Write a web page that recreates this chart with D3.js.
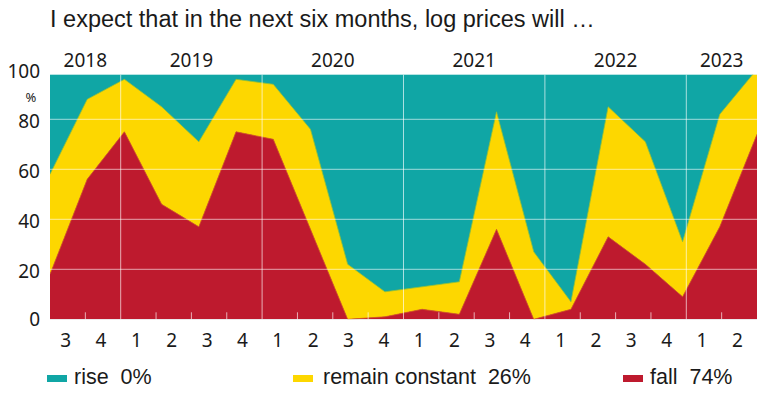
<!DOCTYPE html>
<html>
<head>
<meta charset="utf-8">
<script src="https://cdn.jsdelivr.net/npm/d3@7"></script>
<style>
  body { margin: 0; background: #fff; }
  svg text { white-space: pre; }
</style>
</head>
<body>
<div id="chart"></div>
<script>
// quarter labels and the year each quarter belongs to
var quarters = ["3","4","1","2","3","4","1","2","3","4","1","2","3","4","1","2","3","4","1","2"]
var quarterYear = ["2018","2018","2019","2019","2019","2019","2020","2020","2020","2020",
                   "2021","2021","2021","2021","2022","2022","2022","2022","2023","2023"]
// answer shares in %
var fall   = [18,56,75,46,37,75,72,36,0,1,4,2,36,0,4,33,22,9,37,74]
var remain = [40,32,21,39,34,21,22,40,22,10,9,13,47,27,3,52,49,22,45,26]
var rise   = [42,12,4,15,29,4,6,24,78,89,87,85,17,73,93,15,29,69,18,0]
var yTicks = [0,20,40,60,80,100]
var seriesNames = ["fall","remain","rise"]
var legendLabels = ["rise  0%","remain constant  26%","fall  74%"]

var colors = { rise: "#10a6a5", remain: "#fdd700", fall: "#be1a2e" }

var W = 777, H = 406
var plotLeft = 50, plotRight = 757, plotTop = 74.7, plotBottom = 319.3

var svg = d3.select("#chart")
  .append("svg")
  .attr("width", W)
  .attr("height", H)

var rows = quarters.map(function(q, i){
  return { i: i, fall: fall[i], remain: remain[i], rise: rise[i] }
})

var xPoint = d3.scalePoint()
  .domain(d3.range(quarters.length))
  .range([plotLeft, plotRight])
var xBand = d3.scaleBand()
  .domain(d3.range(quarters.length))
  .range([plotLeft, plotRight])
var y = d3.scaleLinear()
  .domain([0, 100])
  .range([plotBottom, 69.3])

svg.append("clipPath")
  .attr("id", "plotclip")
  .append("rect")
  .attr("x", plotLeft).attr("y", plotTop)
  .attr("width", plotRight - plotLeft).attr("height", plotBottom - plotTop)

var stacked = d3.stack().keys(seriesNames)(rows)

var area = d3.area()
  .x(function(d){ return xPoint(d.data.i) })
  .y0(function(d){ return y(d[0]) })
  .y1(function(d){ return y(d[1]) })

var plot = svg.append("g").attr("clip-path", "url(#plotclip)")

// teal fills the whole box, then the lower layers on top
plot.append("rect")
  .attr("x", plotLeft).attr("y", plotTop)
  .attr("width", plotRight - plotLeft).attr("height", plotBottom - plotTop)
  .attr("fill", colors.rise)

plot.selectAll("path.layer")
  .data(stacked.slice().reverse())
  .enter()
  .append("path")
  .attr("class", "layer")
  .attr("d", area)
  .attr("fill", function(d){ return colors[d.key] })
  .attr("stroke", "none")

// thin boundary lines between the layers
var topLine = d3.line()
  .x(function(d){ return xPoint(d.data.i) })
  .y(function(d){ return y(d[1]) })
plot.selectAll("path.edge")
  .data(stacked.slice(0, 2))
  .enter()
  .append("path")
  .attr("class", "edge")
  .attr("d", topLine)
  .attr("fill", "none")
  .attr("stroke", function(d){ return d.key == "fall" ? "#e0561e" : "#8fbf3c" })
  .attr("stroke-width", 1)
  .attr("stroke-opacity", 0.8)
  .attr("stroke-linejoin", "round")

// horizontal grid
plot.selectAll("line.hgrid")
  .data(yTicks.filter(function(v){ return v > 0 && v < 100 }))
  .enter()
  .append("line")
  .attr("x1", plotLeft).attr("x2", plotRight)
  .attr("y1", function(d){ return y(d) }).attr("y2", function(d){ return y(d) })
  .attr("stroke", "#fff")
  .attr("stroke-opacity", 0.6)
  .attr("stroke-width", 1)

// year separators and quarter ticks
var bounds = d3.range(1, quarters.length)
svg.selectAll("line.vgrid")
  .data(bounds)
  .enter()
  .append("line")
  .attr("x1", function(d){ return xBand(d) })
  .attr("x2", function(d){ return xBand(d) })
  .attr("y1", function(d){ return quarters[d] == "1" ? plotTop : plotBottom - 7 })
  .attr("y2", plotBottom)
  .attr("stroke", "#fff")
  .attr("stroke-opacity", 0.65)
  .attr("stroke-width", 1)

// y axis labels
svg.selectAll("text.ylab")
  .data(yTicks)
  .enter()
  .append("text")
  .attr("x", 40)
  .attr("y", function(d){ return y(d) + (d == 0 ? 0 : 2.4) })
  .attr("dy", "0.35em")
  .attr("text-anchor", "end")
  .attr("font-family", "Noto Sans, sans-serif")
  .attr("font-size", 19)
  .attr("fill", "#1a1a1a")
  .text(function(d){ return d })

svg.append("text")
  .attr("x", 31).attr("y", 102)
  .attr("text-anchor", "middle")
  .attr("font-family", "Noto Sans, sans-serif")
  .attr("font-size", 13)
  .attr("fill", "#1a1a1a")
  .text("%")

// quarter labels
svg.selectAll("text.qlab")
  .data(quarters)
  .enter()
  .append("text")
  .attr("x", function(d, i){ return xBand(i) + xBand.bandwidth() / 2 - 2 })
  .attr("y", 346.7)
  .attr("text-anchor", "middle")
  .attr("font-family", "Noto Sans, sans-serif")
  .attr("font-size", 19)
  .attr("fill", "#1a1a1a")
  .text(function(d){ return d })

// year labels, centred over their quarters
var years = Array.from(new Set(quarterYear))
svg.selectAll("text.year")
  .data(years)
  .enter()
  .append("text")
  .attr("x", function(yr){
    var idx = d3.range(quarters.length).filter(function(i){ return quarterYear[i] == yr })
    return (xBand(idx[0]) + xBand(idx[idx.length - 1]) + xBand.bandwidth()) / 2
  })
  .attr("y", 66.5)
  .attr("text-anchor", "middle")
  .attr("font-family", "Noto Sans, sans-serif")
  .attr("font-size", 19)
  .attr("fill", "#1a1a1a")
  .text(function(d){ return d })

// title
svg.append("text")
  .attr("x", 50).attr("y", 26.7)
  .attr("font-family", "Liberation Sans, Arial, sans-serif")
  .attr("font-size", 23.5)
  .attr("fill", "#1a1a1a")
  .text("I expect that in the next six months, log prices will \u2026")

// legend
var legendKeys = ["rise","remain","fall"]
var legendX = [47, 293, 623]
var leg = svg.selectAll("g.leg")
  .data(legendKeys)
  .enter()
  .append("g")
  .attr("transform", function(d, i){ return "translate(" + legendX[i] + ",0)" })
leg.append("rect")
  .attr("x", 0).attr("y", 375)
  .attr("width", 20).attr("height", 7)
  .attr("fill", function(d){ return colors[d] })
leg.append("text")
  .attr("x", function(d, i){ return i == 1 ? 30 : 27 })
  .attr("y", 384)
  .attr("font-family", "Liberation Sans, Arial, sans-serif")
  .attr("font-size", 21.5)
  .attr("fill", "#1a1a1a")
  .text(function(d, i){ return legendLabels[i] })
</script>
</body>
</html>
